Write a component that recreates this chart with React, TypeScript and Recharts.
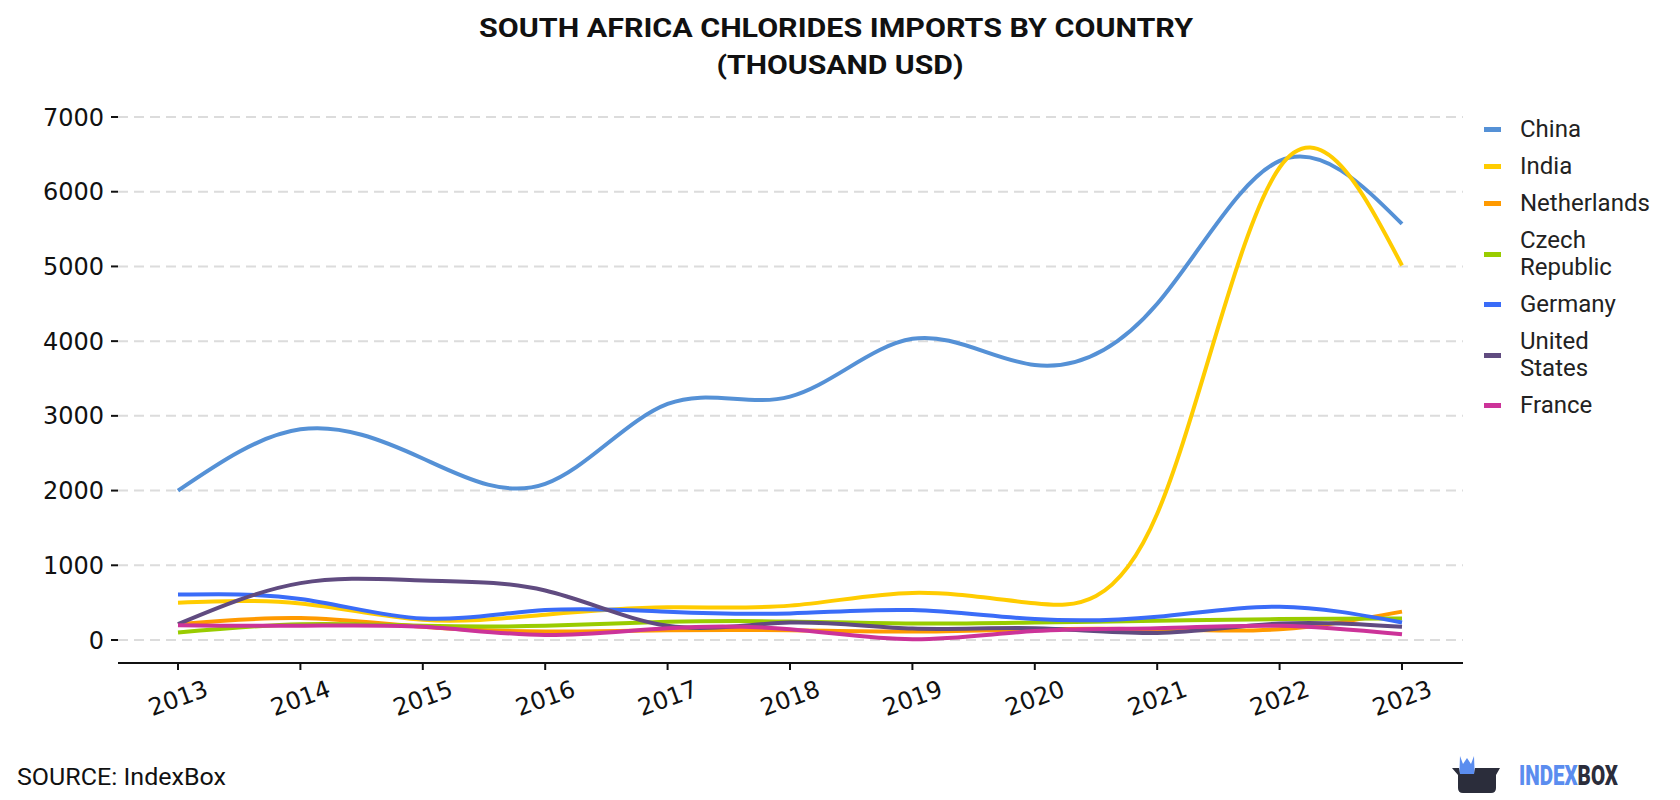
import React from "react";
import { LineChart, Line, XAxis, YAxis, CartesianGrid } from "recharts";

const years = [2013, 2014, 2015, 2016, 2017, 2018, 2019, 2020, 2021, 2022, 2023];

const china = [2000, 2820, 2430, 2090, 3160, 3258, 4031, 3680, 4500, 6413, 5569];
const india = [500, 490, 270, 338, 437, 460, 630, 491, 1690, 6324, 5013];
const netherlands = [212, 293, 176, 113, 130, 130, 113, 144, 144, 144, 380];
const czechRepublic = [99, 212, 190, 190, 243, 248, 220, 234, 257, 280, 288];
const germany = [608, 550, 288, 400, 378, 356, 400, 280, 311, 446, 234];
const unitedStates = [212, 761, 797, 662, 190, 234, 153, 158, 95, 220, 176];
const france = [198, 190, 176, 68, 158, 144, 9, 120, 158, 190, 76];

const yTicks = [0, 1000, 2000, 3000, 4000, 5000, 6000, 7000];

const series = [
  { key: "china", name: "China", color: "#5591d6", values: china },
  { key: "india", name: "India", color: "#ffcc00", values: india },
  { key: "netherlands", name: "Netherlands", color: "#ff9a00", values: netherlands },
  { key: "czech", name: "Czech Republic", color: "#99cc00", values: czechRepublic },
  { key: "germany", name: "Germany", color: "#3a6cf8", values: germany },
  { key: "us", name: "United States", color: "#604b80", values: unitedStates },
  { key: "france", name: "France", color: "#cc3399", values: france },
];

const rows = years.map((year, i) => {
  const row: Record<string, number> = { year };
  series.forEach((s) => {
    row[s.key] = s.values[i];
  });
  return row;
});

function YearTick({ x, y, payload }: any) {
  return (
    <g transform={`translate(${x},${y + 26})`}>
      <text
        x={0}
        y={0}
        dy="0.35em"
        textAnchor="middle"
        transform="rotate(-20)"
        fontFamily="DejaVu Sans"
        fontSize={24}
        fill="#111"
      >
        {payload.value}
      </text>
    </g>
  );
}

function Legend() {
  return (
    <div
      style={{
        position: "absolute",
        left: 1484,
        top: 111,
        fontFamily: "Roboto",
        fontSize: 24,
        color: "#222",
      }}
    >
      {series.map((s) => (
        <div
          key={s.key}
          style={{ display: "flex", alignItems: "center", padding: "5px 0" }}
        >
          <div style={{ width: 17, height: 5, background: s.color }} />
          <div style={{ marginLeft: 19, lineHeight: "27px" }}>
            {s.name.split(" ").map((w) => (
              <div key={w}>{w}</div>
            ))}
          </div>
        </div>
      ))}
    </div>
  );
}

function Footer() {
  return (
    <svg width={1680} height={50} style={{ position: "absolute", left: 0, top: 750 }}>
      <text
        x={17}
        y={35}
        fontFamily="Roboto"
        fontSize={23}
        textLength={209}
        lengthAdjust="spacingAndGlyphs"
        fill="#111"
      >
        SOURCE: IndexBox
      </text>
      {/* logo mark */}
      <path d="M1460 6 L1463 14 L1467 8 L1471 14 L1474 6 L1475 32 L1459 32 Z" fill="#5b8def" />
      <path
        d="M1452 18 L1459 18 L1460 24 L1474 24 L1475 18 L1500 18 L1496 25 L1496 38 Q1496 43 1491 43 L1463 43 Q1458 43 1458 38 L1458 25 Z"
        fill="#2b2d3b"
      />
      <text
        x={1519}
        y={35}
        fontFamily="Roboto"
        fontWeight={900}
        fontSize={27}
        textLength={99}
        lengthAdjust="spacingAndGlyphs"
      >
        <tspan fill="#5b8def">INDEX</tspan>
        <tspan fill="#2b2d3b">BOX</tspan>
      </text>
    </svg>
  );
}

export default function App() {
  return (
    <div
      style={{
        position: "absolute",
        left: 0,
        top: 0,
        width: 1680,
        height: 800,
        background: "#fff",
        overflow: "hidden",
      }}
    >
      <svg width={1680} height={90} style={{ position: "absolute", left: 0, top: 0 }}>
        <text
          x={836}
          y={37}
          textAnchor="middle"
          fontFamily="Roboto"
          fontWeight={700}
          fontSize={26}
          textLength={714}
          lengthAdjust="spacingAndGlyphs"
          fill="#111"
        >
          SOUTH AFRICA CHLORIDES IMPORTS BY COUNTRY
        </text>
        <text
          x={840}
          y={74}
          textAnchor="middle"
          fontFamily="Roboto"
          fontWeight={700}
          fontSize={26}
          textLength={247}
          lengthAdjust="spacingAndGlyphs"
          fill="#111"
        >
          (THOUSAND USD)
        </text>
      </svg>

      <div style={{ position: "absolute", left: 0, top: 0 }}>
        <LineChart
          width={1680}
          height={800}
          data={rows}
          margin={{ top: 117, right: 217, bottom: 77, left: 0 }}
        >
          <CartesianGrid
            vertical={false}
            stroke="#dcdcdc"
            strokeWidth={2}
            strokeDasharray="10 6"
          />
          <XAxis
            dataKey="year"
            height={60}
            padding={{ left: 60, right: 61 }}
            tick={<YearTick />}
            tickSize={7}
            tickMargin={2}
            axisLine={{ stroke: "#111", strokeWidth: 2 }}
            tickLine={{ stroke: "#111", strokeWidth: 2 }}
            interval={0}
          />
          <YAxis
            width={118}
            domain={[0, 7000]}
            ticks={yTicks}
            padding={{ top: 0, bottom: 23 }}
            axisLine={false}
            tickSize={7}
            tickMargin={7}
            tickLine={{ stroke: "#111", strokeWidth: 2 }}
            tick={{ fontFamily: "DejaVu Sans", fontSize: 24, fill: "#111" }}
            interval={0}
          />
          {series.map((s) => (
            <Line
              key={s.key}
              type="natural"
              dataKey={s.key}
              name={s.name}
              stroke={s.color}
              strokeWidth={4}
              dot={false}
              activeDot={false}
              isAnimationActive={false}
            />
          ))}
        </LineChart>
      </div>

      <Legend />
      <Footer />
    </div>
  );
}
